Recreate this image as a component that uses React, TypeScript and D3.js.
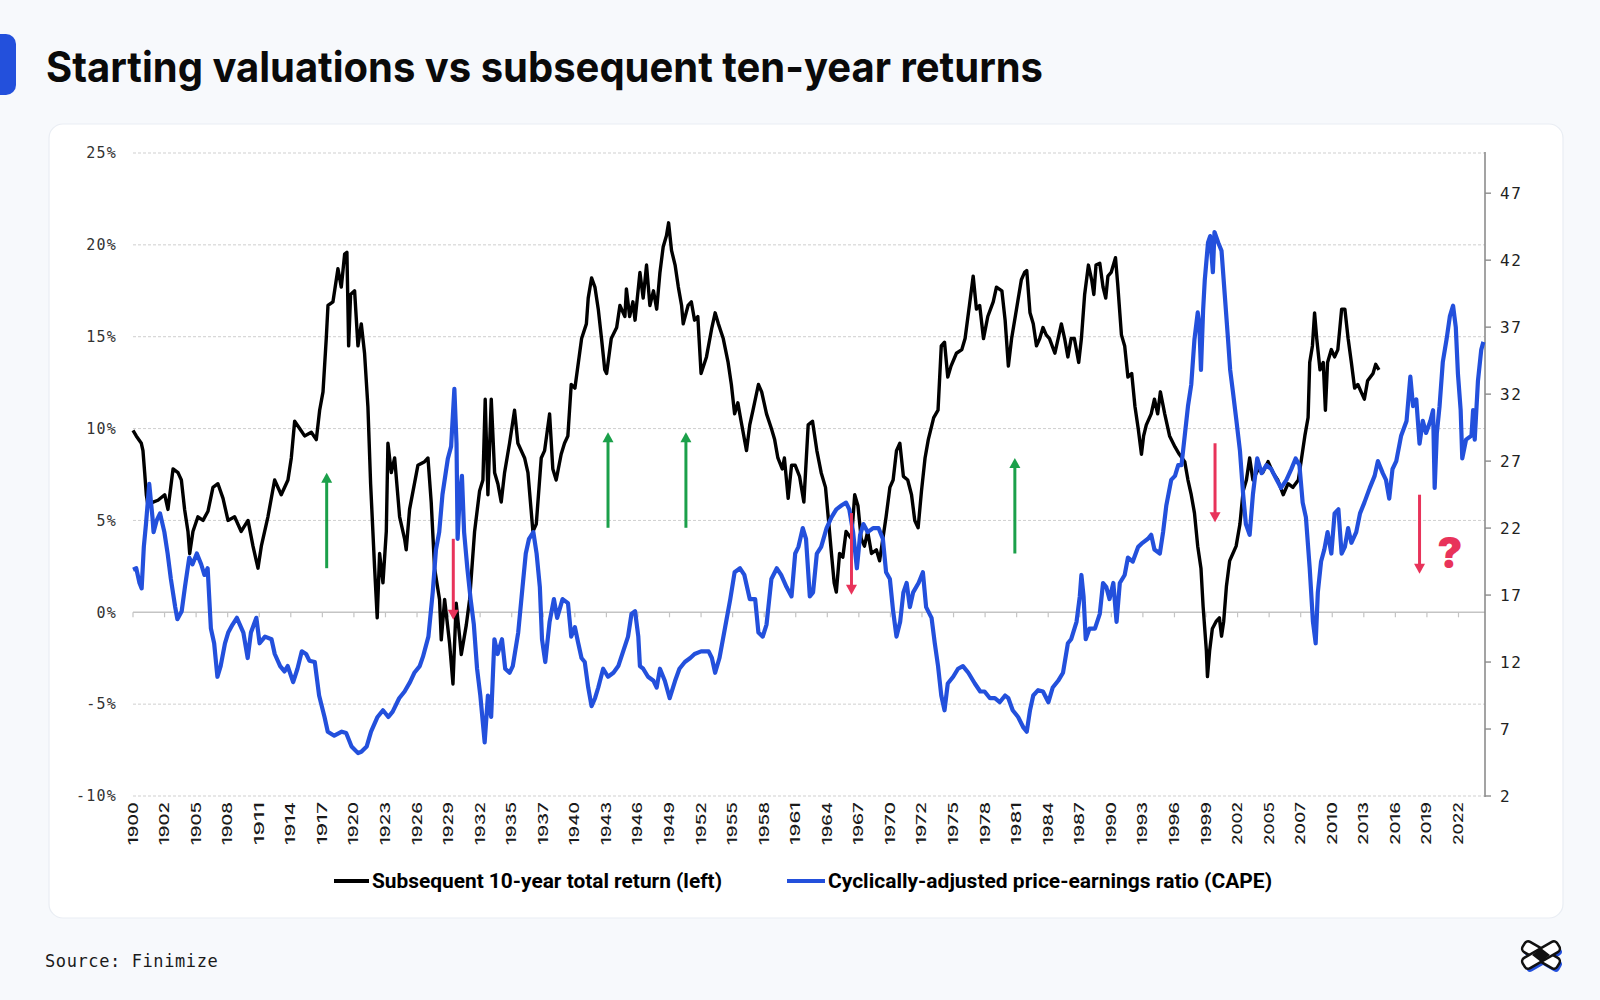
import React from 'react'
import * as d3 from 'd3'

// subsequent 10-year total return, % a year  [year, value]
const returnSeries: [number, number][] = [
  [1900.0, 9.9], [1900.3, 9.6], [1900.77, 9.2], [1900.92, 8.8], [1901.08, 7.6], [1901.23, 6.4], [1901.39, 5.8],
  [1901.85, 6.0], [1902.31, 6.1], [1902.93, 6.4], [1903.23, 5.6], [1903.7, 7.8], [1904.16, 7.6], [1904.47, 7.2],
  [1904.77, 5.6], [1905.08, 4.4], [1905.24, 3.2], [1905.54, 4.4], [1906.0, 5.2], [1906.47, 5.0], [1906.93, 5.5],
  [1907.39, 6.8], [1907.85, 7.0], [1908.32, 6.2], [1908.78, 5.0], [1909.39, 5.2], [1910.0, 4.4], [1910.63, 5.0],
  [1911.09, 3.6], [1911.55, 2.4], [1911.86, 3.6], [1912.47, 5.2], [1913.09, 7.2], [1913.7, 6.4], [1914.32, 7.2],
  [1914.63, 8.4], [1914.94, 10.4], [1915.4, 10.0], [1915.86, 9.6], [1916.48, 9.8], [1916.94, 9.4], [1917.25, 11.0],
  [1917.56, 12.0], [1917.86, 14.9], [1918.02, 16.7], [1918.48, 16.9], [1918.94, 18.7], [1919.25, 17.7], [1919.56, 19.5],
  [1919.77, 19.6], [1919.93, 14.5], [1920.11, 17.3], [1920.48, 17.5], [1920.79, 14.5], [1921.1, 15.7], [1921.4, 14.1],
  [1921.71, 11.2], [1921.96, 7.0], [1922.33, 2.4], [1922.57, -0.3], [1922.79, 3.2], [1923.1, 1.6], [1923.41, 4.4],
  [1923.56, 9.2], [1923.87, 7.6], [1924.18, 8.4], [1924.64, 5.2], [1925.1, 4.0], [1925.25, 3.4], [1925.56, 5.6],
  [1926.33, 8.0], [1926.95, 8.2], [1927.26, 8.4], [1927.56, 6.0], [1927.87, 2.4], [1928.33, 0.7], [1928.49, -1.5],
  [1928.8, 0.7], [1929.26, -1.7], [1929.57, -3.9], [1929.87, 0.5], [1930.18, -1.3], [1930.34, -2.3], [1930.8, -0.7],
  [1931.11, 0.7], [1931.57, 4.4], [1932.03, 6.6], [1932.34, 7.2], [1932.55, 11.6], [1932.8, 6.4], [1933.11, 11.6],
  [1933.42, 7.6], [1933.72, 7.0], [1934.03, 6.0], [1934.34, 7.6], [1934.8, 9.2], [1935.26, 11.0], [1935.57, 9.2],
  [1936.19, 8.4], [1936.5, 7.6], [1936.96, 4.4], [1937.27, 4.8], [1937.73, 8.4], [1938.04, 8.8], [1938.5, 10.8],
  [1938.8, 7.8], [1939.11, 7.2], [1939.57, 8.6], [1939.88, 9.2], [1940.19, 9.6], [1940.5, 12.4], [1940.84, 12.2],
  [1941.46, 14.9], [1941.9, 15.7], [1942.07, 17.1], [1942.38, 18.2], [1942.69, 17.7], [1943.0, 16.5], [1943.3, 14.9],
  [1943.6, 13.2], [1943.77, 13.0], [1944.2, 14.9], [1944.7, 15.5], [1945.0, 16.7], [1945.46, 16.1], [1945.6, 17.6],
  [1945.9, 16.1], [1946.2, 16.9], [1946.4, 15.9], [1946.85, 18.5], [1947.15, 17.1], [1947.46, 18.9], [1947.77, 16.7],
  [1948.1, 17.5], [1948.4, 16.5], [1948.7, 18.5], [1949.0, 19.9], [1949.3, 20.5], [1949.5, 21.2], [1949.77, 19.7],
  [1950.1, 18.9], [1950.4, 17.7], [1950.7, 16.7], [1950.85, 15.7], [1951.3, 16.7], [1951.6, 16.9], [1951.9, 15.9],
  [1952.2, 16.1], [1952.5, 13.0], [1953.0, 13.9], [1953.5, 15.5], [1953.8, 16.3], [1954.1, 15.7], [1954.55, 14.9],
  [1955.0, 13.6], [1955.3, 12.4], [1955.6, 10.8], [1955.9, 11.4], [1956.2, 10.4], [1956.7, 8.8], [1957.0, 10.2],
  [1957.3, 11.0], [1957.8, 12.4], [1958.1, 12.0], [1958.55, 10.8], [1959.0, 10.0], [1959.3, 9.4], [1959.6, 8.4],
  [1960.0, 7.8], [1960.2, 8.4], [1960.55, 6.2], [1960.86, 8.0], [1961.2, 8.0], [1961.6, 7.4], [1962.0, 6.0],
  [1962.4, 10.2], [1962.8, 10.4], [1963.2, 8.8], [1963.6, 7.6], [1964.0, 6.8], [1964.25, 5.2], [1964.55, 3.2],
  [1964.8, 1.6], [1965.0, 1.1], [1965.3, 3.2], [1965.6, 3.0], [1965.9, 4.4], [1966.4, 4.0], [1966.7, 6.4],
  [1967.0, 5.8], [1967.3, 4.0], [1967.6, 3.6], [1967.9, 4.4], [1968.25, 3.2], [1968.7, 3.4], [1969.0, 2.8],
  [1969.3, 4.0], [1969.6, 5.2], [1969.95, 6.8], [1970.25, 7.2], [1970.56, 8.8], [1970.87, 9.2], [1971.2, 7.4],
  [1971.6, 7.2], [1971.95, 6.4], [1972.25, 5.0], [1972.56, 4.6], [1972.87, 6.6], [1973.2, 8.4], [1973.5, 9.4],
  [1974.0, 10.6], [1974.4, 11.0], [1974.7, 14.5], [1975.0, 14.7], [1975.3, 12.8], [1975.6, 13.4], [1976.1, 14.1],
  [1976.6, 14.3], [1976.9, 14.9], [1977.3, 16.7], [1977.65, 18.3], [1977.95, 16.5], [1978.25, 16.7], [1978.6, 14.9],
  [1979.0, 16.1], [1979.5, 16.9], [1979.8, 17.7], [1980.3, 17.5], [1980.6, 15.9], [1980.9, 13.4], [1981.2, 14.9],
  [1981.65, 16.5], [1982.1, 18.1], [1982.4, 18.5], [1982.6, 18.6], [1982.9, 16.3], [1983.2, 15.7], [1983.5, 14.5],
  [1983.8, 14.9], [1984.1, 15.5], [1984.4, 15.1], [1984.7, 14.9], [1985.2, 14.1], [1985.5, 14.9], [1985.8, 15.7],
  [1986.1, 14.9], [1986.4, 13.9], [1986.7, 14.9], [1987.0, 14.9], [1987.4, 13.6], [1987.65, 14.9], [1987.95, 17.3],
  [1988.3, 18.9], [1988.6, 18.1], [1988.8, 17.3], [1989.0, 18.9], [1989.35, 19.0], [1989.65, 17.7], [1989.9, 17.1],
  [1990.1, 18.3], [1990.4, 18.5], [1990.8, 19.3], [1991.0, 17.9], [1991.35, 15.1], [1991.65, 14.5], [1991.95, 12.8],
  [1992.3, 13.0], [1992.6, 11.2], [1992.9, 10.0], [1993.2, 8.6], [1993.4, 9.6], [1993.65, 10.2], [1994.1, 10.8],
  [1994.4, 11.6], [1994.7, 10.8], [1994.95, 12.0], [1995.35, 10.8], [1995.8, 9.6], [1996.3, 9.0], [1996.7, 8.6],
  [1997.2, 8.2], [1997.5, 7.2], [1997.8, 6.4], [1998.1, 5.4], [1998.4, 3.6], [1998.7, 2.4], [1998.9, 0.3],
  [1999.2, -2.1], [1999.3, -3.5], [1999.5, -2.1], [1999.75, -0.9], [2000.1, -0.5], [2000.4, -0.3], [2000.6, -1.3],
  [2000.8, -0.5], [2001.05, 1.4], [2001.35, 2.8], [2001.65, 3.2], [2001.95, 3.6], [2002.3, 4.8], [2002.6, 6.6],
  [2002.9, 7.2], [2003.2, 8.4], [2003.5, 7.2], [2004.0, 7.8], [2004.4, 7.6], [2004.9, 8.2], [2005.35, 7.6],
  [2005.8, 7.2], [2006.3, 6.4], [2006.75, 7.0], [2007.2, 6.8], [2007.7, 7.2], [2008.0, 8.4], [2008.3, 9.6],
  [2008.6, 10.6], [2008.75, 13.6], [2009.0, 14.5], [2009.2, 16.3], [2009.4, 14.9], [2009.7, 13.2], [2010.0, 13.6],
  [2010.2, 11.0], [2010.4, 13.6], [2010.75, 14.3], [2011.05, 13.9], [2011.35, 14.3], [2011.7, 16.5], [2012.0, 16.5],
  [2012.3, 14.9], [2012.6, 13.6], [2012.9, 12.2], [2013.2, 12.4], [2013.5, 12.0], [2013.8, 11.6], [2014.1, 12.6],
  [2014.6, 13.0], [2014.85, 13.5], [2015.15, 13.2],
]

// CAPE ratio  [year, value]
const capeSeries: [number, number][] = [
  [1900.0, 18.9], [1900.3, 19.0], [1900.6, 17.9], [1900.8, 17.5], [1901.0, 20.6], [1901.2, 22.3], [1901.5, 25.3],
  [1901.8, 22.8], [1901.9, 21.7], [1902.2, 22.6], [1902.5, 23.1], [1902.9, 21.7], [1903.2, 20.1], [1903.5, 18.2],
  [1903.9, 16.1], [1904.1, 15.2], [1904.5, 15.8], [1904.8, 17.6], [1905.2, 19.8], [1905.5, 19.3], [1905.9, 20.1],
  [1906.3, 19.3], [1906.6, 18.5], [1906.9, 19.0], [1907.2, 14.5], [1907.5, 13.4], [1907.8, 10.9], [1908.1, 11.7],
  [1908.5, 13.4], [1908.8, 14.2], [1909.2, 14.8], [1909.6, 15.3], [1910.2, 14.2], [1910.6, 12.3], [1910.9, 14.2],
  [1911.4, 15.3], [1911.7, 13.4], [1912.2, 13.9], [1912.8, 13.7], [1913.1, 12.6], [1913.6, 11.7], [1914.0, 11.3],
  [1914.3, 11.7], [1914.8, 10.5], [1915.2, 11.5], [1915.6, 12.8], [1916.0, 12.6], [1916.3, 12.1], [1916.8, 12.0],
  [1917.2, 9.5], [1917.7, 7.9], [1918.0, 6.8], [1918.6, 6.5], [1919.3, 6.8], [1919.7, 6.7], [1920.2, 5.7],
  [1920.8, 5.2], [1921.1, 5.3], [1921.6, 5.7], [1922.0, 6.8], [1922.6, 7.9], [1923.1, 8.4], [1923.6, 7.9],
  [1924.0, 8.3], [1924.6, 9.3], [1925.1, 9.8], [1925.6, 10.5], [1926.0, 11.2], [1926.5, 11.7], [1926.8, 12.4],
  [1927.3, 13.9], [1927.7, 17.2], [1928.0, 20.4], [1928.3, 21.7], [1928.6, 24.5], [1929.1, 27.2], [1929.4, 28.1],
  [1929.7, 32.4], [1929.9, 28.3], [1930.0, 21.2], [1930.2, 24.5], [1930.4, 25.9], [1930.6, 21.7], [1930.9, 19.0],
  [1931.2, 16.7], [1931.5, 14.8], [1931.8, 11.5], [1932.1, 9.5], [1932.5, 6.0], [1932.8, 9.5], [1933.1, 7.9],
  [1933.4, 13.7], [1933.7, 12.6], [1934.1, 13.7], [1934.4, 11.5], [1934.8, 11.2], [1935.1, 11.7], [1935.6, 14.2],
  [1936.0, 17.6], [1936.3, 20.1], [1936.6, 21.2], [1937.0, 21.7], [1937.3, 20.1], [1937.6, 17.6], [1937.8, 13.7],
  [1938.1, 12.0], [1938.5, 15.0], [1938.9, 16.7], [1939.2, 15.3], [1939.7, 16.7], [1940.2, 16.4], [1940.5, 13.9],
  [1940.84, 14.6], [1941.15, 13.4], [1941.45, 12.3], [1941.75, 12.0], [1942.07, 10.1], [1942.38, 8.7], [1942.7, 9.3],
  [1943.0, 10.1], [1943.45, 11.5], [1943.9, 10.9], [1944.4, 11.2], [1944.85, 11.7], [1945.3, 12.8], [1945.75, 13.9],
  [1946.07, 15.6], [1946.4, 15.8], [1946.7, 13.9], [1946.85, 11.7], [1947.15, 11.5], [1947.6, 10.9], [1948.1, 10.6],
  [1948.4, 10.1], [1948.7, 11.5], [1949.15, 10.6], [1949.6, 9.3], [1950.1, 10.6], [1950.5, 11.5], [1951.0, 12.0],
  [1951.5, 12.3], [1951.9, 12.6], [1952.5, 12.8], [1953.2, 12.8], [1953.5, 12.3], [1953.8, 11.2], [1954.2, 12.3],
  [1954.7, 14.5], [1955.2, 16.7], [1955.6, 18.7], [1956.1, 19.0], [1956.5, 18.5], [1957.0, 16.7], [1957.5, 16.7],
  [1957.8, 14.2], [1958.2, 13.9], [1958.55, 14.8], [1959.0, 18.2], [1959.5, 19.0], [1959.9, 18.5], [1960.4, 17.6],
  [1960.86, 16.9], [1961.2, 20.1], [1961.5, 20.6], [1961.9, 22.0], [1962.2, 21.2], [1962.55, 16.9], [1962.85, 17.2],
  [1963.2, 20.1], [1963.6, 20.6], [1964.1, 22.0], [1964.55, 22.8], [1965.0, 23.4], [1965.5, 23.7], [1965.9, 23.9],
  [1966.2, 23.4], [1966.55, 21.7], [1966.9, 19.0], [1967.2, 21.5], [1967.5, 22.3], [1967.9, 21.7], [1968.4, 22.0],
  [1968.9, 22.0], [1969.3, 21.2], [1969.6, 18.7], [1969.95, 18.2], [1970.25, 15.8], [1970.56, 13.9], [1970.9, 15.0],
  [1971.2, 17.2], [1971.5, 17.9], [1971.8, 16.1], [1972.1, 17.2], [1972.6, 17.9], [1973.0, 18.7], [1973.3, 16.1],
  [1973.8, 15.3], [1974.1, 13.4], [1974.4, 11.7], [1974.7, 9.5], [1975.0, 8.4], [1975.3, 10.4], [1975.8, 10.9],
  [1976.25, 11.5], [1976.7, 11.7], [1977.2, 11.2], [1977.8, 10.4], [1978.3, 9.8], [1978.7, 9.8], [1979.2, 9.3],
  [1979.65, 9.3], [1980.1, 9.0], [1980.6, 9.5], [1980.9, 9.3], [1981.3, 8.4], [1981.8, 7.9], [1982.3, 7.1],
  [1982.6, 6.8], [1982.9, 8.4], [1983.2, 9.5], [1983.65, 9.9], [1984.1, 9.8], [1984.6, 9.0], [1985.0, 10.1],
  [1985.5, 10.6], [1985.95, 11.2], [1986.4, 13.4], [1986.7, 13.7], [1987.2, 15.0], [1987.5, 16.9], [1987.65, 18.5],
  [1987.85, 16.9], [1988.05, 13.7], [1988.4, 14.5], [1988.9, 14.5], [1989.35, 15.6], [1989.65, 17.9], [1989.95, 17.6],
  [1990.25, 16.7], [1990.6, 17.9], [1990.9, 15.0], [1991.2, 17.9], [1991.65, 18.5], [1991.95, 19.8], [1992.4, 19.5],
  [1992.9, 20.6], [1993.3, 20.9], [1993.8, 21.2], [1994.1, 21.5], [1994.4, 20.4], [1994.9, 20.1], [1995.2, 21.7],
  [1995.5, 23.7], [1995.95, 25.6], [1996.3, 25.9], [1996.6, 26.7], [1996.9, 26.7], [1997.2, 28.9], [1997.5, 31.1],
  [1997.8, 32.7], [1998.1, 36.1], [1998.4, 38.1], [1998.55, 37.2], [1998.7, 33.8], [1998.9, 38.3], [1999.05, 40.5],
  [1999.35, 43.3], [1999.55, 43.8], [1999.8, 41.1], [1999.95, 44.1], [2000.3, 43.3], [2000.6, 42.7], [2000.9, 39.4],
  [2001.2, 36.1], [2001.4, 33.8], [2001.65, 32.2], [2001.95, 30.2], [2002.3, 27.8], [2002.6, 24.5], [2002.85, 22.3],
  [2003.2, 21.5], [2003.5, 24.5], [2003.9, 27.2], [2004.3, 26.1], [2004.75, 26.7], [2005.2, 26.4], [2005.7, 25.6],
  [2006.1, 25.0], [2006.6, 25.6], [2007.05, 26.4], [2007.45, 27.2], [2007.8, 26.7], [2008.1, 23.9], [2008.4, 22.8],
  [2008.75, 19.0], [2009.05, 15.0], [2009.3, 13.4], [2009.5, 17.2], [2009.8, 19.5], [2010.1, 20.4], [2010.4, 21.7],
  [2010.75, 20.1], [2011.05, 23.1], [2011.4, 23.4], [2011.7, 20.1], [2012.0, 20.6], [2012.3, 22.0], [2012.6, 20.9],
  [2013.05, 21.7], [2013.4, 23.1], [2013.8, 23.9], [2014.3, 25.0], [2014.75, 25.9], [2015.05, 27.0], [2015.5, 26.1],
  [2015.8, 25.6], [2016.1, 24.2], [2016.4, 26.4], [2016.75, 27.0], [2017.2, 28.9], [2017.7, 30.0], [2018.05, 33.3],
  [2018.3, 31.1], [2018.6, 31.6], [2018.9, 28.3], [2019.2, 30.0], [2019.5, 29.1], [2019.9, 30.0], [2020.15, 30.8],
  [2020.3, 25.0], [2020.5, 29.1], [2020.75, 31.1], [2021.05, 34.4], [2021.4, 36.1], [2021.7, 37.8], [2022.0, 38.6],
  [2022.25, 37.0], [2022.45, 33.5], [2022.7, 30.8], [2022.85, 27.2], [2023.2, 28.6], [2023.7, 28.9], [2023.85, 30.8],
  [2024.0, 28.6], [2024.3, 33.0], [2024.6, 35.3], [2024.8, 35.9],
]

const leftTicks = [-10, -5, 0, 5, 10, 15, 20, 25]
const rightTicks = [2, 7, 12, 17, 22, 27, 32, 37, 42, 47]
const xTickLabels = [
  1900, 1902, 1905, 1908, 1911, 1914, 1917, 1920, 1923, 1926, 1929, 1932, 1935, 1937, 1940, 1943, 1946, 1949,
  1952, 1955, 1958, 1961, 1964, 1967, 1970, 1972, 1975, 1978, 1981, 1984, 1987, 1990, 1993, 1996, 1999, 2002,
  2005, 2007, 2010, 2013, 2016, 2019, 2022,
]
const monthsPerLabel = 35

// arrow annotations: year, start (%), tip (%)
const upArrows = [
  {year: 1917.9, from: 2.4, to: 7.6},
  {year: 1943.9, from: 4.6, to: 9.8},
  {year: 1951.1, from: 4.6, to: 9.8},
  {year: 1981.5, from: 3.2, to: 8.4},
]
const downArrows = [
  {year: 1929.6, from: 4.0, to: -0.4},
  {year: 1966.4, from: 5.4, to: 0.95},
  {year: 2000.0, from: 9.2, to: 4.9},
  {year: 2018.9, from: 6.4, to: 2.1},
]
const questionMark = {year: 2021.7, value: 2.4}

const BLUE = '#2350dc'
const GREEN = '#1ba04a'
const RED = '#e8335a'

function Arrow({cx, y0, y1, color}: {cx: number, y0: number, y1: number, color: string}) {
  const dir = y1 < y0 ? 1 : -1 // 1 = pointing up
  const head = 10
  return (
    <g>
      <line x1={cx} x2={cx} y1={y0} y2={y1 + dir * (head - 1)} stroke={color} strokeWidth={3} />
      <polygon points={`${cx},${y1} ${cx - 5.5},${y1 + dir * head} ${cx + 5.5},${y1 + dir * head}`} fill={color} />
    </g>
  )
}

export default function App() {
  const x = d3.scaleLinear().domain([1900, 2024.95]).range([133, 1485])
  const yL = d3.scaleLinear().domain([-10, 25]).range([796, 153])
  const yR = d3.scaleLinear().domain([2, 50]).range([796, 153])

  const retLine = d3.line<[number, number]>().x(d => x(d[0])).y(d => yL(d[1]))
  const capeLine = d3.line<[number, number]>().x(d => x(d[0])).y(d => yR(d[1]))

  const tickYears = xTickLabels.map((_, k) => 1900 + (k * monthsPerLabel) / 12)

  return (
    <svg width={1600} height={1000} style={{position: 'absolute', left: 0, top: 0, display: 'block'}}>
      <rect width={1600} height={1000} fill="#f7f9fc" />
      <rect x={-12} y={34} width={28} height={61} rx={10} fill={BLUE} />
      <text x={46} y={82} fontFamily="Inter, 'Liberation Sans', sans-serif" fontWeight={700} fontSize={42}
        textLength={997} lengthAdjust="spacingAndGlyphs" fill="#0a0a0a">
        Starting valuations vs subsequent ten-year returns
      </text>

      <rect x={49} y={124} width={1514} height={794} rx={14} fill="#fff" stroke="#e9edf3" strokeWidth={1.2} />

      {/* gridlines */}
      {leftTicks.map(t => (
        <line key={'g' + t} x1={133} x2={1485} y1={yL(t)} y2={yL(t)}
          stroke={t === 0 ? '#c4c4c4' : '#cfcfcf'} strokeWidth={t === 0 ? 1.5 : 1}
          strokeDasharray={t === 0 ? undefined : '3 2'} />
      ))}
      {tickYears.map((yr, i) => (
        <line key={'xt' + i} x1={x(yr)} x2={x(yr)} y1={yL(0)} y2={yL(0) + 5} stroke="#c4c4c4" strokeWidth={1.2} />
      ))}

      {/* left axis labels */}
      {leftTicks.map(t => (
        <text key={'l' + t} x={117} y={yL(t)} dy="0.35em" textAnchor="end"
          fontFamily="'DejaVu Sans Mono', monospace" fontSize={15} letterSpacing={1.2} fill="#333">
          {t + '%'}
        </text>
      ))}

      {/* right axis */}
      <line x1={1485} x2={1485} y1={152} y2={797} stroke="#8c8c8c" strokeWidth={1.6} />
      {rightTicks.map(t => (
        <g key={'r' + t}>
          <line x1={1485} x2={1491} y1={yR(t)} y2={yR(t)} stroke="#8c8c8c" strokeWidth={1.4} />
          <text x={1500} y={yR(t)} dy="0.36em" fontFamily="'DejaVu Sans Mono', monospace" fontSize={16}
            letterSpacing={1.5} fill="#222">
            {t}
          </text>
        </g>
      ))}

      {/* x labels */}
      {xTickLabels.map((lab, i) => (
        <text key={'x' + i} transform={`translate(${x(tickYears[i])},802) rotate(-90)`} textAnchor="end" dy="0.36em"
          fontFamily="Inter, sans-serif" fontWeight={500} fontSize={12.5} textLength={43} lengthAdjust="spacingAndGlyphs"
          fill="#1a1a1a">
          {lab}
        </text>
      ))}

      {/* series */}
      <path d={retLine(returnSeries) || ''} fill="none" stroke="#000" strokeWidth={3.4} strokeLinejoin="round" />
      <path d={capeLine(capeSeries) || ''} fill="none" stroke={BLUE} strokeWidth={4.2} strokeLinejoin="round" />

      {/* annotations */}
      {upArrows.map((a, i) => <Arrow key={'u' + i} cx={x(a.year)} y0={yL(a.from)} y1={yL(a.to)} color={GREEN} />)}
      {downArrows.map((a, i) => <Arrow key={'d' + i} cx={x(a.year)} y0={yL(a.from)} y1={yL(a.to)} color={RED} />)}
      <text x={x(questionMark.year)} y={yL(questionMark.value)} textAnchor="middle" fontFamily="Inter, sans-serif"
        fontWeight={900} fontSize={42} fill={RED}>?</text>

      {/* legend */}
      <line x1={334} x2={369} y1={881} y2={881} stroke="#000" strokeWidth={4} />
      <text x={372} y={888} fontFamily="Roboto, sans-serif" fontWeight={700} fontSize={20} textLength={350}
        lengthAdjust="spacingAndGlyphs" fill="#000">Subsequent 10-year total return (left)</text>
      <line x1={787} x2={825} y1={881} y2={881} stroke={BLUE} strokeWidth={4} />
      <text x={828} y={888} fontFamily="Roboto, sans-serif" fontWeight={700} fontSize={20} textLength={444}
        lengthAdjust="spacingAndGlyphs" fill="#000">Cyclically-adjusted price-earnings ratio (CAPE)</text>

      {/* footer */}
      <text x={45} y={967} fontFamily="'DejaVu Sans Mono', monospace" fontSize={17} letterSpacing={0.6} fill="#1a1a1a">
        Source: Finimize
      </text>
      <g transform="translate(1541,955)">
        <g transform="translate(2,3)" fill={BLUE}>
          <rect x={-20} y={-6} width={40} height={12} rx={4} transform="rotate(30)" />
          <rect x={-20} y={-6} width={40} height={12} rx={4} transform="rotate(-30)" />
        </g>
        <rect x={-20} y={-6} width={40} height={12} rx={4} transform="rotate(30)" fill="#fff" stroke="#111" strokeWidth={2.5} />
        <rect x={-20} y={-6} width={40} height={12} rx={4} transform="rotate(-30)" fill="#fff" stroke="#111" strokeWidth={2.5} />
        <polygon points="0,-7 9,0 0,7 -9,0" fill="#111" />
      </g>
    </svg>
  )
}
